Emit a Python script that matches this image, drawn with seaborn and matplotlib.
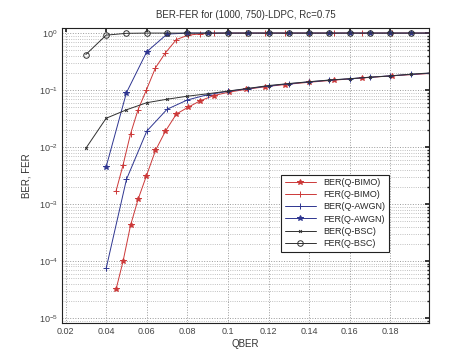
import matplotlib
matplotlib.use("Agg")
import matplotlib.pyplot as plt
import seaborn as sns
import numpy as np

sns.set_theme(style="white")
plt.rcParams["font.family"] = ["Liberation Sans", "DejaVu Sans"]
plt.rcParams["mathtext.fontset"] = "custom"
plt.rcParams["mathtext.rm"] = "Liberation Sans"
plt.rcParams["mathtext.it"] = "Liberation Sans"

# QBER points
q_bimo = [0.0449, 0.0483, 0.052, 0.0557, 0.0598, 0.0643, 0.0692, 0.0746, 0.0804, 0.0864,
          0.093, 0.1005, 0.109, 0.118, 0.128, 0.14, 0.152, 0.166, 0.181, 0.2]
q_awgn = [0.04, 0.05, 0.06, 0.07, 0.08, 0.09, 0.10, 0.11, 0.12, 0.13, 0.14, 0.15,
          0.16, 0.17, 0.18, 0.19, 0.2]
q_bsc = [0.03, 0.04, 0.05, 0.06, 0.07, 0.08, 0.09, 0.10, 0.11, 0.12, 0.13, 0.14, 0.15,
         0.16, 0.17, 0.18, 0.19, 0.2]

ber_bimo = [3.2e-5, 9.8e-5, 4.2e-4, 1.2e-3, 3.1e-3, 8.7e-3, 0.019, 0.038, 0.050, 0.065,
            0.080, 0.092, 0.103, 0.114, 0.125, 0.137, 0.149, 0.163, 0.178, 0.196]
fer_bimo = [0.0017, 0.0048, 0.017, 0.045, 0.10, 0.246, 0.45, 0.77, 0.92, 0.97,
            0.99, 1.0, 1.0, 1.0, 1.0, 1.0, 1.0, 1.0, 1.0, 1.0]
ber_awgn = [7.4e-5, 0.0027, 0.019, 0.046, 0.067, 0.083, 0.095, 0.106, 0.118, 0.129,
            0.139, 0.149, 0.158, 0.168, 0.178, 0.188, 0.198]
fer_awgn = [0.0045, 0.09, 0.47, 0.96, 1.0, 1.0, 1.0, 1.0, 1.0, 1.0, 1.0, 1.0,
            1.0, 1.0, 1.0, 1.0, 1.0]
ber_bsc = [0.0095, 0.032, 0.045, 0.060, 0.069, 0.078, 0.086, 0.096, 0.107, 0.12, 0.13,
           0.14, 0.15, 0.158, 0.168, 0.177, 0.19, 0.2]
fer_bsc = [0.42, 0.92, 0.99, 1.0, 1.0, 1.0, 1.0, 1.0, 1.0, 1.0, 1.0, 1.0, 1.0,
           1.0, 1.0, 1.0, 1.0, 1.0]

red = "#cc3838"
blue = "#2e3590"
black = "#303030"

fig = plt.figure(figsize=(4.74, 3.63), dpi=100)
ax = fig.add_axes([0.131, 0.110, 0.774, 0.813])

series = [
    (q_bimo, ber_bimo, "BER(Q-BIMO)", red, dict(marker="*", ms=3.8, mfc=red, mec=red)),
    (q_bimo, fer_bimo, "FER(Q-BIMO)", red, dict(marker="+", ms=4, mec=red)),
    (q_awgn, ber_awgn, "BER(Q-AWGN)", blue, dict(marker="+", ms=4, mec=blue)),
    (q_awgn, fer_awgn, "FER(Q-AWGN)", blue, dict(marker="*", ms=3.8, mfc=blue, mec=blue)),
    (q_bsc, ber_bsc, "BER(Q-BSC)", black, dict(marker="x", ms=2, mec=black)),
    (q_bsc, fer_bsc, "FER(Q-BSC)", black, dict(marker="o", ms=4, mfc="none", mec=black)),
]
for x, y, lab, col, mk in series:
    sns.lineplot(x=x, y=y, ax=ax, color=col, label=lab, lw=0.7, estimator=None,
                 sort=False, markevery=slice(0, len(x) - 1), mew=0.7, **mk)

ax.set_yscale("log")
ax.set_xlim(0.0183, 0.199)
ax.set_ylim(10 ** -5.09, 10 ** 0.09)
ax.set_xticks(np.arange(0.02, 0.19, 0.02))
ax.set_xticklabels(["0.02", "0.04", "0.06", "0.08", "0.1", "0.12", "0.14", "0.16", "0.18"])
ax.set_yticks([1e-5, 1e-4, 1e-3, 1e-2, 1e-1, 1e0])

ax.grid(True, which="major", ls=":", color="#9a9a9a", lw=0.7)
ax.grid(True, which="minor", axis="y", ls=":", color="#ababab", lw=0.6)
ax.tick_params(which="both", direction="in", top=True, right=True, labelsize=6.5,
               colors="#222222", labelcolor="#444444", pad=3)
ax.tick_params(which="major", length=3)
ax.tick_params(which="minor", length=1.8)
for s in ax.spines.values():
    s.set_color("#222222")
    s.set_linewidth(0.8)

ax.set_title("BER-FER for (1000, 750)-LDPC, Rc=0.75", fontsize=7, color="#333333", pad=7)
ax.set_xlabel("QBER", fontsize=7, color="#333333", labelpad=2)
ax.set_ylabel("BER, FER", fontsize=7, color="#333333", labelpad=5)

leg = ax.legend(loc="lower right", bbox_to_anchor=(0.902, 0.227), fontsize=6.5,
                frameon=True, fancybox=False, edgecolor="#222222", framealpha=1,
                handlelength=3.4, borderpad=0.4, labelspacing=0.35)
leg.get_frame().set_linewidth(0.8)

fig.savefig("out.png", dpi=100)
